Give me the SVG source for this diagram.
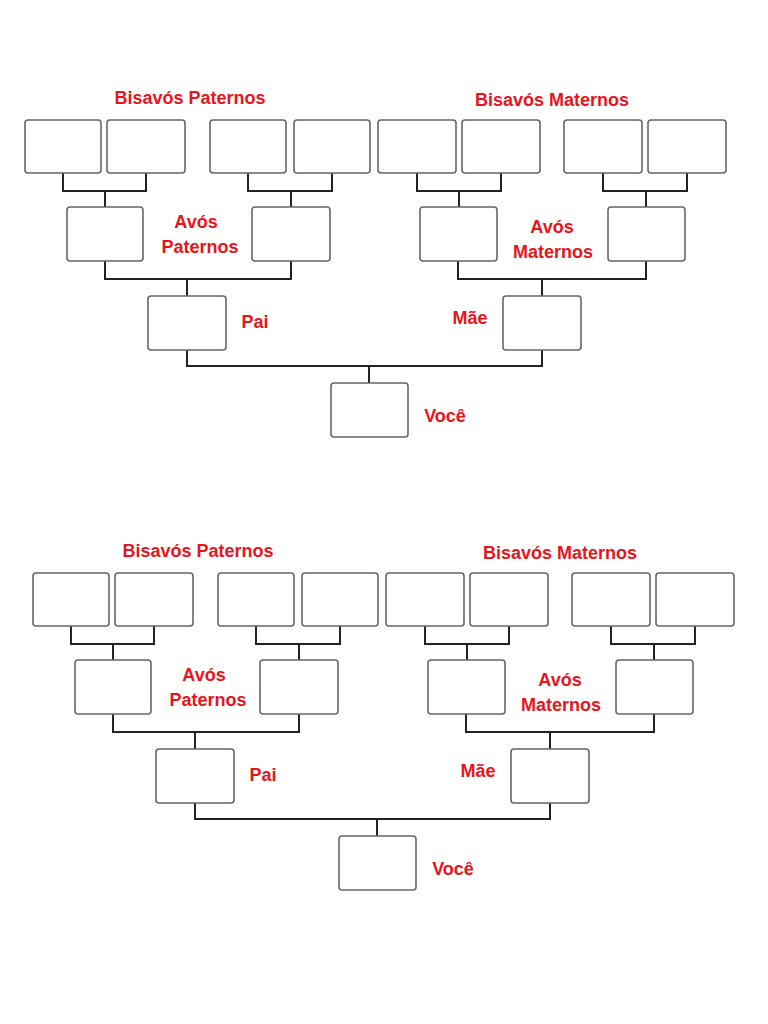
<svg xmlns="http://www.w3.org/2000/svg" width="768" height="1024" viewBox="0 0 768 1024">
<style>
.b{fill:#fff;stroke:#666;stroke-width:1.6}
.c{fill:none;stroke:#222;stroke-width:2}
.t{font-family:"Liberation Sans",Arial,sans-serif;font-weight:bold;font-size:18px;fill:#e8141c;text-anchor:middle}
</style>
<rect width="768" height="1024" fill="#fff"/>
<defs>
<g id="tree">
<g id="connectors">
<path class="c" d="M63 173V191H146V173M105 191V207M248 173V191H332V173M291 191V207M417 173V191H501V173M459 191V207M603 173V191H687V173M646 191V207M105 261V279H291V261M187 279V296M458 261V279H646V261M542 279V296M187 350V366H542V350M369 366V383"/>
</g>
<g id="bisavos">
<rect class="b" x="25" y="120" width="76" height="53" rx="3"/>
<rect class="b" x="107" y="120" width="78" height="53" rx="3"/>
<rect class="b" x="210" y="120" width="76" height="53" rx="3"/>
<rect class="b" x="294" y="120" width="76" height="53" rx="3"/>
<rect class="b" x="378" y="120" width="78" height="53" rx="3"/>
<rect class="b" x="462" y="120" width="78" height="53" rx="3"/>
<rect class="b" x="564" y="120" width="78" height="53" rx="3"/>
<rect class="b" x="648" y="120" width="78" height="53" rx="3"/>
</g>
<g id="avos">
<rect class="b" x="67" y="207" width="76" height="54" rx="3"/>
<rect class="b" x="252" y="207" width="78" height="54" rx="3"/>
<rect class="b" x="420" y="207" width="77" height="54" rx="3"/>
<rect class="b" x="608" y="207" width="77" height="54" rx="3"/>
</g>
<g id="pais">
<rect class="b" x="148" y="296" width="78" height="54" rx="3"/>
<rect class="b" x="503" y="296" width="78" height="54" rx="3"/>
</g>
<g id="voce"><rect class="b" x="331" y="383" width="77" height="54" rx="3"/></g>
<g id="labels">
<text class="t" x="190" y="104">Bisavós Paternos</text>
<text class="t" x="552" y="106">Bisavós Maternos</text>
<text class="t" x="196" y="228">Avós</text>
<text class="t" x="200" y="253">Paternos</text>
<text class="t" x="552" y="233">Avós</text>
<text class="t" x="553" y="258">Maternos</text>
<text class="t" x="255" y="328">Pai</text>
<text class="t" x="470" y="324">Mãe</text>
<text class="t" x="445" y="422">Você</text>
</g>
</g>
</defs>
<g id="arvore1"><use href="#tree"/></g>
<g id="arvore2"><use href="#tree" transform="translate(8,453)"/></g>
</svg>
